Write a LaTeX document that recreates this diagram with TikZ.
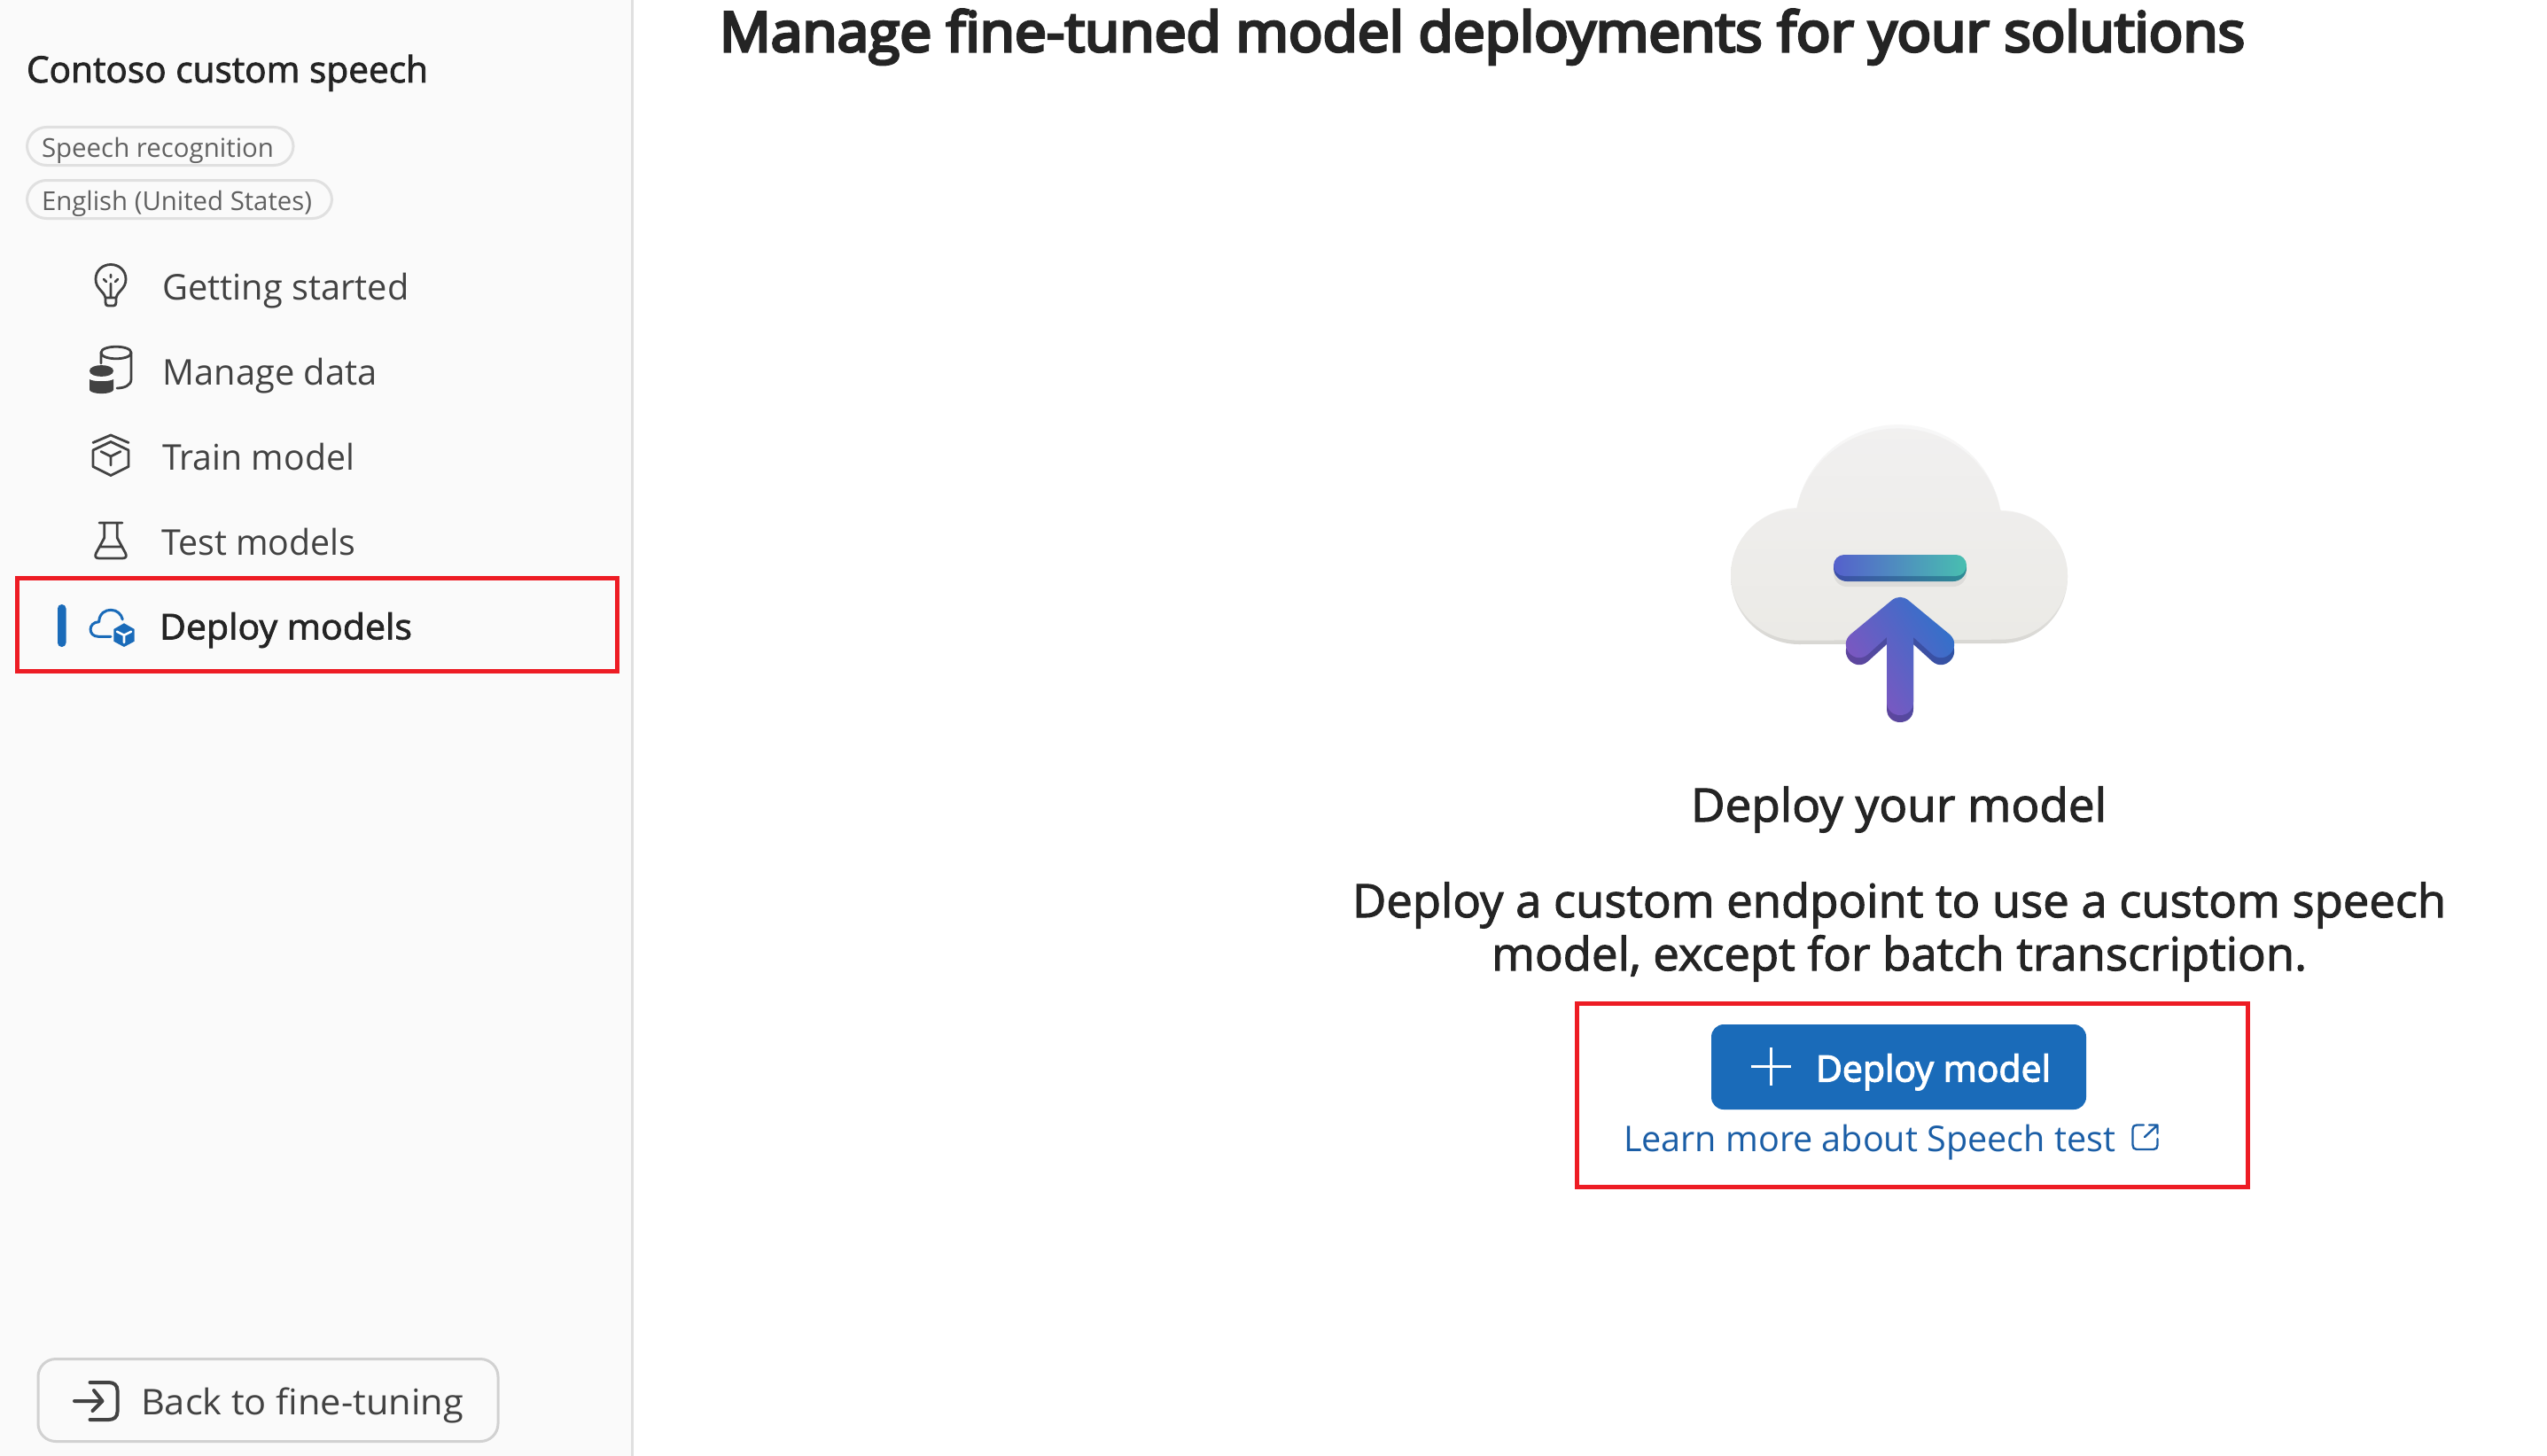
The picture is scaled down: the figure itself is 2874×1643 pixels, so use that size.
\documentclass[tikz,border=0pt]{standalone}
\usepackage{fontspec}
\usepackage{graphicx}
\setmainfont{Open Sans}
\newfontfamily\medf[FakeBold=2]{Open Sans}
\newfontfamily\btnf[FakeBold=3]{Open Sans}
\newfontfamily\semif[FakeBold=5]{Open Sans}
\definecolor{panel}{HTML}{FAFAFA}
\definecolor{panelline}{HTML}{E0E0E0}
\definecolor{chipline}{HTML}{E0E0E0}
\definecolor{backline}{HTML}{D1D1D1}
\definecolor{ink}{HTML}{242424}
\definecolor{navink}{HTML}{424242}
\definecolor{chipink}{HTML}{616161}
\definecolor{azure}{HTML}{1A6BB9}
\definecolor{linkblue}{HTML}{1B5EA6}
\definecolor{redbox}{HTML}{ED1C24}
\definecolor{cloudtop}{HTML}{F8F8F8}
\definecolor{cloudmid}{HTML}{F2F1F0}
\definecolor{cloudbot}{HTML}{D8D7D3}
\definecolor{cloudmain}{HTML}{F1F0F0}
\definecolor{cloudmainb}{HTML}{EBEAE6}
\definecolor{barshadow}{HTML}{DDDCDA}
\definecolor{bardarkl}{HTML}{3D4FA8}
\definecolor{bardarkr}{HTML}{2E8C95}
\definecolor{barl}{HTML}{5560CC}
\definecolor{barr}{HTML}{48BFB0}
\definecolor{arrowdarkl}{HTML}{6A429C}
\definecolor{arrowdarkr}{HTML}{2A55A6}
\definecolor{arrowl}{HTML}{8A52BF}
\definecolor{arrowr}{HTML}{2F72CA}
\newcommand{\fw}[2]{\resizebox{#1pt}{\height}{#2}}
\tikzset{
  x=0.5pt,y=0.5pt,
  lab/.style={anchor=base west,inner sep=0pt,outer sep=0pt},
  icon/.style={draw=navink,line width=1.4pt,line cap=round,line join=round},
  blueicon/.style={draw=azure,line width=1.5pt,line cap=round,line join=round},
  mark box/.style={draw=redbox,line width=2.5pt},
  cloudshape/.style={insert path={
    (2030,-727) arc[start angle=270,end angle=92,radius=77]
    -- (2027,-575) arc[start angle=169.6,end angle=10.4,radius=117]
    -- (2258,-576) arc[start angle=90,end angle=-90,radius=75] -- cycle}},
  arrowshape/.style={insert path={
    (2129,-792) .. controls (2129,-812) and (2159,-812) .. (2159,-792)
    -- (2159,-719)
    -- (2180,-738.1) .. controls (2194.8,-751.5) and (2214.8,-729.3) .. (2200,-715.9)
    -- (2154,-677.9) .. controls (2148,-672.5) and (2140,-672.5) .. (2134,-677.9)
    -- (2088,-715.9) .. controls (2073.2,-729.3) and (2093.2,-751.5) .. (2108,-738.1)
    -- (2129,-719) -- cycle}}
}
\begin{document}
\begin{tikzpicture}
\useasboundingbox (0,0) rectangle (2874,-1643);
\fill[white] (0,0) rectangle (2874,-1643);
% left panel
\fill[panel] (0,0) rectangle (712,-1643);
\draw[panelline,line width=1.5pt] (713,0) -- (713,-1643);
% title
\node[lab,text=ink] (title) at (812,-58) {\fontsize{31pt}{36pt}\selectfont\semif\fw{860.5}{Manage fine-tuned model deployments for your solutions}};
\node[lab,text=ink] (contoso) at (30,-93) {\fontsize{20.5pt}{24pt}\selectfont\medf\fw{226.5}{Contoso custom speech}};
% chips
\draw[chipline,line width=1.5pt,rounded corners=11pt] (30.5,-143.5) rectangle (331,-186.5);
\draw[chipline,line width=1.5pt,rounded corners=11pt] (30.5,-203.5) rectangle (374.5,-246.5);
\node[lab,text=chipink] (chipa) at (47,-177.5) {\fontsize{14.7pt}{18pt}\selectfont\fw{131}{Speech recognition}};
\node[lab,text=chipink] (chipb) at (47,-237.5) {\fontsize{14.7pt}{18pt}\selectfont\fw{152.5}{English (United States)}};
% nav labels
\node[lab,text=navink] (nava) at (183.5,-338) {\fontsize{20pt}{24pt}\selectfont\fw{139}{Getting started}};
\node[lab,text=navink] (navb) at (183.5,-434) {\fontsize{20pt}{24pt}\selectfont\fw{121}{Manage data}};
\node[lab,text=navink] (navc) at (183,-530) {\fontsize{20pt}{24pt}\selectfont\fw{108.5}{Train model}};
\node[lab,text=navink] (navd) at (182.5,-626.5) {\fontsize{20pt}{24pt}\selectfont\fw{109.5}{Test models}};
\node[lab,text=ink] (nave) at (180,-721.5) {\fontsize{20pt}{24pt}\selectfont\medf\fw{142.5}{Deploy models}};
% bulb icon
\draw[icon] (119,-336) .. controls (117,-328) and (108,-326) .. (108,-315)
  .. controls (108,-305) and (116,-298.5) .. (125,-298.5)
  .. controls (134,-298.5) and (142,-305) .. (142,-315)
  .. controls (142,-326) and (133,-328) .. (131,-336)
  -- (131,-341) .. controls (131,-344) and (130,-345) .. (128,-345)
  -- (122,-345) .. controls (120,-345) and (119,-344) .. (119,-341) -- cycle;
\draw[icon] (119,-336) -- (131,-336) (125,-320) -- (125,-336) (125,-310) -- (125,-313) (117,-315) -- (120,-318) (133,-315) -- (130,-318);
% data icon
\draw[icon] (114,-410) -- (114,-398) .. controls (114,-389) and (148,-389) .. (148,-398)
  -- (148,-428) .. controls (148,-435) and (140,-438) .. (132,-438);
\draw[icon] (114,-398) .. controls (114,-407) and (148,-407) .. (148,-398);
\fill[navink] (101,-418.5) .. controls (101,-410) and (128,-410) .. (128,-418.5) .. controls (128,-427) and (101,-427) .. (101,-418.5) -- cycle;
\fill[navink] (101,-428) .. controls (105,-431) and (124,-431) .. (128,-428) -- (128,-440) .. controls (126,-445.5) and (103,-445.5) .. (101,-440) -- cycle;
% box icon
\draw[icon] (125,-498.5) -- (145,-508) -- (145,-526.5) -- (125,-536.5) -- (105,-526.5) -- (105,-508) -- cycle;
\draw[icon] (105,-499.5) -- (125,-491) -- (145,-499.5);
\draw[icon] (114,-509.5) -- (125,-515) -- (136,-509.5) (125,-515) -- (125,-525);
% flask icon
\draw[icon] (112,-590) -- (138,-590) (117.7,-590) -- (117.7,-607) -- (108.5,-624) .. controls (106.5,-628) and (108,-630) .. (112,-630)
  -- (138,-630) .. controls (142,-630) and (143.5,-628) .. (141.5,-624) -- (132.3,-607) -- (132.3,-590) (112,-617) -- (138,-617);
% active bar
\fill[azure,rounded corners=2.3pt] (65,-682) rectangle (74.5,-730);
% cloud nav icon
\draw[blueicon] (125,-718.3) -- (111,-718.3) .. controls (99,-718.3) and (99,-702) .. (111.7,-701.7)
  .. controls (112,-692) and (119,-688.3) .. (125,-688.3) .. controls (132,-688.3) and (137,-693) .. (138.3,-699);
\fill[azure] (140,-703.3) -- (151.7,-710) -- (151.7,-723.7) -- (140,-730) -- (128.3,-723.7) -- (128.3,-710) -- cycle;
\draw[white,line width=1.3pt,line cap=round] (132,-712.7) -- (140,-716.7) -- (148,-712.7) (140,-716.7) -- (140,-725);
% red boxes
\draw[mark box] (19,-652.5) rectangle (696,-757.5);
\draw[mark box] (1779,-1132) rectangle (2536,-1339);
% back button
\draw[backline,line width=1.5pt,rounded corners=10pt] (43,-1533.5) rectangle (562,-1626.5);
\draw[navink,line width=2pt,line cap=round,line join=round] (101.5,-1560) -- (122.5,-1560) .. controls (128.5,-1560) and (132.5,-1563) .. (132.5,-1569)
  -- (132.5,-1593) .. controls (132.5,-1599) and (128.5,-1602) .. (122.5,-1602) -- (101.5,-1602);
\draw[navink,line width=2pt,line cap=round,line join=round] (84,-1581) -- (115.5,-1581) (106,-1569) -- (115.5,-1581) -- (104.5,-1592);
\node[lab,text=navink] (back) at (159,-1596.5) {\fontsize{20pt}{24pt}\selectfont\fw{182}{Back to fine-tuning}};
% cloud illustration
\shade[top color=cloudtop,bottom color=cloudbot,middle color=cloudmid,cloudshape];
\begin{scope}[shift={(0,-603)},yscale=0.965,shift={(0,603)}]
\shade[top color=cloudmain,bottom color=cloudmainb,cloudshape];
\end{scope}
% bar
\fill[barshadow,rounded corners=7.5pt] (2069,-632) rectangle (2219,-662);
\shade[left color=bardarkl,right color=bardarkr,rounded corners=7.5pt] (2069,-626) rectangle (2219,-656);
\shade[left color=barl,right color=barr,rounded corners=6pt] (2069,-626) rectangle (2219,-650);
% arrow
\begin{scope}[yshift=-4pt]
\shade[left color=arrowdarkl,right color=arrowdarkr,shading angle=122,arrowshape];
\end{scope}
\shade[left color=arrowl,right color=arrowr,shading angle=122,arrowshape];
% centre text
\node[lab,text=ink] (deployyour) at (1908,-927) {\fontsize{26pt}{30pt}\selectfont\medf\fw{234.5}{Deploy your model}};
\node[lab,text=ink] (linea) at (1526,-1035) {\fontsize{26pt}{30pt}\selectfont\medf\fw{617}{Deploy a custom endpoint to use a custom speech}};
\node[lab,text=ink] (lineb) at (1683,-1095) {\fontsize{26pt}{30pt}\selectfont\medf\fw{460}{model, except for batch transcription.}};
% button
\fill[azure,rounded corners=7pt] (1931,-1156) rectangle (2354,-1252);
\draw[white,line width=1.5pt] (1975.5,-1203) -- (2021,-1203) (1998,-1182) -- (1998,-1225);
\node[lab,text=white] (btn) at (2049,-1220.5) {\fontsize{20.5pt}{24pt}\selectfont\btnf\fw{132.5}{Deploy model}};
\node[lab,text=linkblue] (learn) at (1832,-1299) {\fontsize{20pt}{24pt}\selectfont\fw{277.5}{Learn more about Speech test}};
% external icon
\begin{scope}[xshift=-2pt]
\draw[linkblue,line width=1.2pt,line cap=round,line join=round] (2423,-1269.5) -- (2415,-1269.5) .. controls (2412,-1269.5) and (2410.5,-1271) .. (2410.5,-1274)
  -- (2410.5,-1292) .. controls (2410.5,-1295) and (2412,-1297) .. (2415,-1297) -- (2434,-1297) .. controls (2437,-1297) and (2438.5,-1295) .. (2438.5,-1292) -- (2438.5,-1285);
\draw[linkblue,line width=1.2pt,line cap=round,line join=round] (2424,-1283) -- (2438.5,-1269.5) (2429,-1269.5) -- (2438.5,-1269.5) -- (2438.5,-1279);
\end{scope}
\end{tikzpicture}
\end{document}
